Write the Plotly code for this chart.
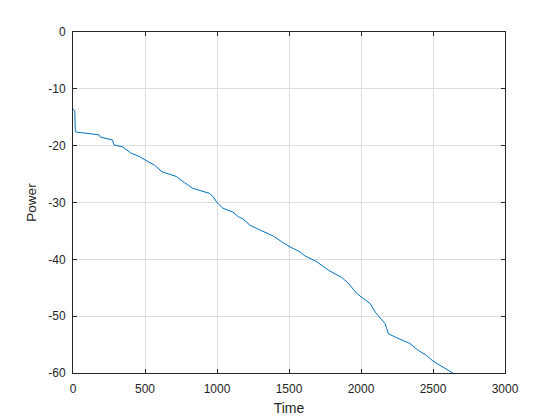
import plotly.graph_objects as go

time = [0, 12, 16, 20, 88, 181, 190, 274, 286, 344, 402, 460, 500, 565, 618, 716, 774, 832,
        948, 971, 1000, 1041, 1111, 1148, 1181, 1229, 1287, 1391, 1449, 1500, 1576, 1611,
        1692, 1773, 1866, 1912, 1970, 2000, 2064, 2099, 2133, 2167, 2179, 2190, 2248, 2339,
        2397, 2454, 2500, 2534, 2580, 2638, 2650]
power = [-13.6, -13.8, -17.3, -17.6, -17.8, -18.1, -18.5, -19.0, -19.9, -20.2, -21.3, -21.9,
         -22.5, -23.4, -24.6, -25.4, -26.5, -27.5, -28.4, -28.9, -30.0, -31.0, -31.7, -32.5,
         -32.9, -34.0, -34.7, -35.9, -36.9, -37.7, -38.7, -39.4, -40.4, -41.9, -43.2, -44.2,
         -46.0, -46.6, -47.8, -49.3, -50.4, -51.3, -52.2, -53.1, -53.8, -54.8, -56.0, -56.9,
         -57.9, -58.4, -59.1, -59.9, -60.2]

x_ticks = [0, 500, 1000, 1500, 2000, 2500, 3000]
x_labels = ["0", "500", "1000", "1500", "2000", "2500", "3000"]
y_ticks = [0, -10, -20, -30, -40, -50, -60]
y_labels = ["0", "-10", "-20", "-30", "-40", "-50", "-60"]

FONT = "Liberation Sans, Arial"

fig = go.Figure(go.Scatter(x=time, y=power, mode="lines",
                           line=dict(color="#0072BD", width=1), showlegend=False))

axis_common = dict(showline=True, linecolor="#262626", linewidth=1, mirror="ticks",
                   ticks="inside", ticklen=4, tickcolor="#262626", automargin=False,
                   showgrid=True, gridcolor="#dedede", gridwidth=1, zeroline=False,
                   tickfont=dict(family=FONT, size=12, color="#262626"))

fig.update_xaxes(range=[0, 3000], tickvals=x_ticks, ticktext=x_labels, ticklabelstandoff=5,
                 title=dict(text="Time", font=dict(family=FONT, size=14, color="#262626"), standoff=7),
                 **axis_common)
fig.update_yaxes(range=[-60, 0], tickvals=y_ticks, ticktext=y_labels, ticklabelstandoff=4,
                 title=dict(text="Power", font=dict(family=FONT, size=13.5, color="#262626"), standoff=8),
                 **axis_common)

fig.update_layout(width=560, height=420, margin=dict(l=65, r=63, t=24, b=55),
                  paper_bgcolor="white", plot_bgcolor="white")

fig.write_html("out.html")
